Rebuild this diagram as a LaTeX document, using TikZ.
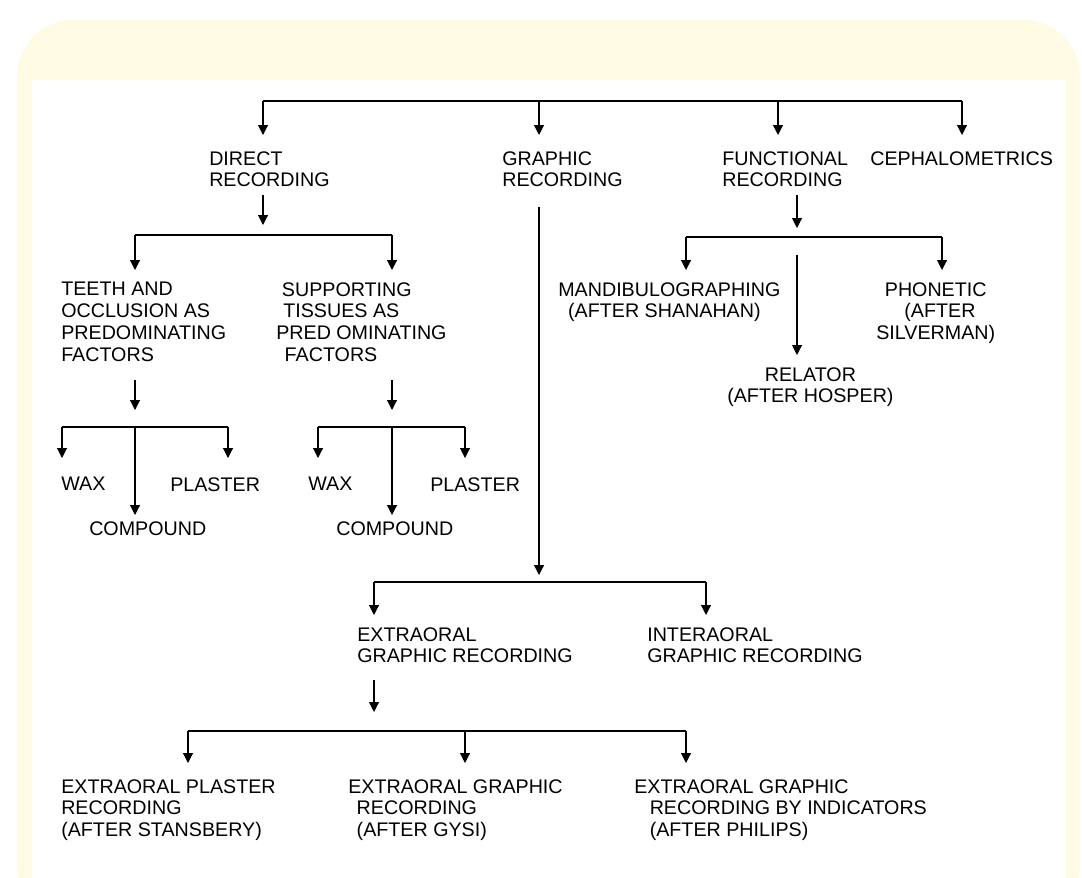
\documentclass[tikz,border=0pt]{standalone}
\usepackage{fontspec}
\setmainfont{Liberation Sans}
\usetikzlibrary{positioning,arrows.meta}
\definecolor{paleyellow}{HTML}{FFFAE3}

\begin{document}
\begin{tikzpicture}[
    x=0.025cm, y=-0.025cm,
    lbl/.style={
        anchor=north west,
        inner sep=0pt,
        align=left,
        font=\fontsize{14}{15.6}\selectfont
    },
    arr/.style={-{Triangle[length=7pt,width=7pt]}, thick},
    bar/.style={thick}
]

% frame
\useasboundingbox (0,0) rectangle (1082,878);
\fill[paleyellow, rounded corners=40] (17,20) rectangle (1080,920);
\fill[white] (32,80) rectangle (1066,878);

% labels
\node[lbl] (direct) at (209,151) {DIRECT\\RECORDING};
\node[lbl] (graphic) at (502,151) {GRAPHIC\\RECORDING};
\node[lbl] (functional) at (722,151) {FUNCTIONAL\\RECORDING};
\node[lbl] (ceph) at (870,151) {CEPHALOMETRICS};
\node[lbl] (teeth) at (61,282) {TEETH AND\\OCCLUSION AS\\PREDOMINATING\\FACTORS};
\node[lbl] (support) at (276,282) {\hspace{4pt}SUPPORTING\\\hspace{5pt}TISSUES AS\\PRED OMINATING\\\hspace{6pt}FACTORS};
\node[lbl] (mandib) at (558,282) {MANDIBULOGRAPHING\\\hspace{7pt}(AFTER SHANAHAN)};
\node[lbl, align=center] (phonetic) at (876,282) {PHONETIC\\\hspace{6pt}(AFTER\\SILVERMAN)};
\node[lbl, align=center] (relator) at (727,367) {RELATOR\\(AFTER HOSPER)};
\node[lbl] (waxa) at (61,477) {WAX};
\node[lbl] (plastera) at (170,477) {PLASTER};
\node[lbl] (compounda) at (89,521) {COMPOUND};
\node[lbl] (waxb) at (308,477) {WAX};
\node[lbl] (plasterb) at (430,477) {PLASTER};
\node[lbl] (compoundb) at (336,521) {COMPOUND};
\node[lbl] (extraoral) at (357,627) {EXTRAORAL\\GRAPHIC RECORDING};
\node[lbl] (interaoral) at (647,627) {INTERAORAL\\GRAPHIC RECORDING};
\node[lbl] (plasterrec) at (61,779) {EXTRAORAL PLASTER\\RECORDING\\(AFTER STANSBERY)};
\node[lbl] (gysi) at (348,779) {EXTRAORAL GRAPHIC\\\hspace{6pt}RECORDING\\\hspace{6pt}(AFTER GYSI)};
\node[lbl] (philips) at (634,779) {EXTRAORAL GRAPHIC\\\hspace{11pt}RECORDING BY INDICATORS\\\hspace{11pt}(AFTER PHILIPS)};

% top level
\coordinate (top) at (263,101);
\draw[bar] (top) -- (962,101);
\foreach \x in {263,539,778,962}
    \draw[arr] (\x,101) -- (\x,135);

% direct recording
\coordinate (dsplit) at (135,235);
\draw[arr] (263,195) -- (263,225);
\draw[bar] (dsplit) -- (392,235);
\foreach \x in {135,392}
    \draw[arr] (\x,235) -- (\x,270);

% functional recording
\coordinate (fsplit) at (686,237);
\draw[arr] (797,195) -- (797,228);
\draw[bar] (fsplit) -- (942,237);
\foreach \x in {686,942}
    \draw[arr] (\x,237) -- (\x,270);
\draw[arr] (797,255) -- (797,355);

% teeth and support
\foreach \m/\l/\r in {135/62/228, 392/318/465} {
    \draw[arr] (\m,380) -- (\m,410);
    \draw[bar] (\l,427) -- (\r,427);
    \draw[arr] (\l,427) -- (\l,458);
    \draw[arr] (\r,427) -- (\r,458);
    \draw[arr] (\m,427) -- (\m,515);
}

% graphic recording
\draw[arr] (539,207) -- (539,575);
\draw[bar] (374,582) -- (706,582);
\foreach \x in {374,706}
    \draw[arr] (\x,582) -- (\x,615);

% extraoral
\draw[arr] (374,680) -- (374,712);
\draw[bar] (188,731) -- (686,731);
\foreach \x in {188,465,686}
    \draw[arr] (\x,731) -- (\x,763);

\end{tikzpicture}
\end{document}
